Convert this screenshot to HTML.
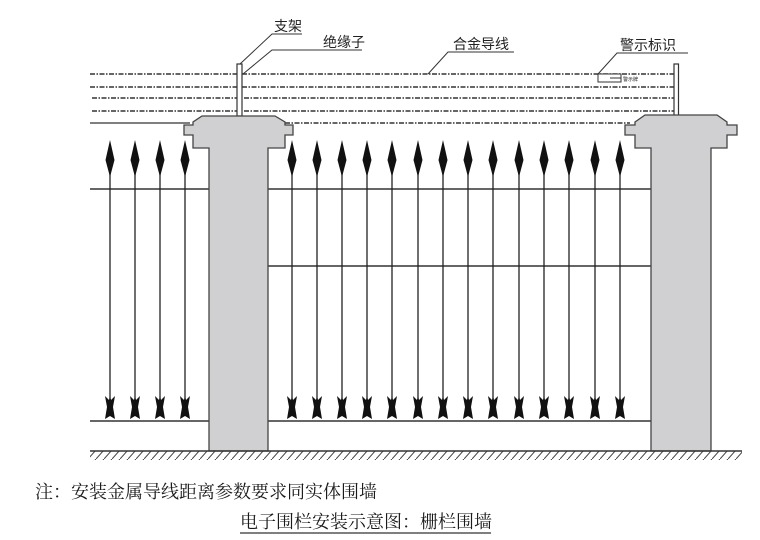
<!DOCTYPE html>
<html><head><meta charset="utf-8"><style>
html,body{margin:0;padding:0;background:#fff;}
svg{display:block;}
text{font-family:"Liberation Sans","Noto Sans CJK SC",sans-serif;fill:#222;}
text.s{font-family:"Liberation Serif","Noto Serif CJK SC",serif;fill:#1a1a1a;}
</style></head><body>
<svg width="760" height="540" viewBox="0 0 760 540" xmlns="http://www.w3.org/2000/svg">
<defs>
<g id="sp">
<line x1="0" y1="170" x2="0" y2="400" stroke="#222" stroke-width="1.3"/>
<path d="M0,140 L4.5,160 L0,177 L-4.5,160 Z" fill="#111"/>
<path d="M-5,396 L-1,400 L0,396 L1,400 L5,396 L3,407 L5,419 L0,416 L-5,419 L-3,407 Z" fill="#111"/>
</g>
<pattern id="hatch" width="8" height="9" patternUnits="userSpaceOnUse">
<line x1="8" y1="0" x2="0" y2="9" stroke="#444" stroke-width="1"/>
</pattern>
</defs>

<g stroke="#333" stroke-width="1.4" stroke-dasharray="5,1.5,1.5,1.5">
<line x1="90" y1="74" x2="676" y2="74"/>
<line x1="90" y1="87" x2="676" y2="87"/>
<line x1="92" y1="98" x2="676" y2="98"/>
<line x1="92" y1="111" x2="676" y2="111"/>
<line x1="285" y1="123" x2="630" y2="123"/>
</g>
<line x1="90" y1="123" x2="190" y2="123" stroke="#333" stroke-width="1.3"/>

<rect x="237" y="64" width="5" height="52" fill="#fff" stroke="#333" stroke-width="1.2"/>
<rect x="674" y="64" width="4.5" height="52" fill="#fff" stroke="#333" stroke-width="1.2"/>

<g stroke="#333" stroke-width="1.4">
<line x1="90" y1="189" x2="209" y2="189"/>
<line x1="268" y1="189" x2="651" y2="189"/>
<line x1="268" y1="266" x2="651" y2="266"/>
<line x1="90" y1="421" x2="209" y2="421"/>
<line x1="268" y1="421" x2="651" y2="421"/>
</g>

<use href="#sp" x="110"/><use href="#sp" x="135"/><use href="#sp" x="160"/><use href="#sp" x="185"/>
<use href="#sp" x="292"/><use href="#sp" x="317"/><use href="#sp" x="342"/><use href="#sp" x="367"/>
<use href="#sp" x="392"/><use href="#sp" x="418"/><use href="#sp" x="443"/><use href="#sp" x="468"/>
<use href="#sp" x="493"/><use href="#sp" x="519"/><use href="#sp" x="544"/><use href="#sp" x="569"/>
<use href="#sp" x="595"/><use href="#sp" x="620"/>

<path d="M202,116 L275,116 L285,122 L285,125 L293,125 L293,135 L285,135 L285,148 L268,148 L268,451 L209,451 L209,148 L193,148 L193,135 L184,135 L184,125 L193,125 L193,122 Z" fill="#d0d0d2" stroke="#444" stroke-width="1.3"/>
<path d="M645,115 L717,115 L727,122 L727,125 L737,125 L737,135 L727,135 L727,148 L711,148 L711,451 L651,451 L651,148 L635,148 L635,135 L625,135 L625,125 L635,125 L635,122 Z" fill="#d0d0d2" stroke="#444" stroke-width="1.3"/>

<rect x="90" y="451" width="652" height="9" fill="url(#hatch)"/>
<line x1="90" y1="451" x2="742" y2="451" stroke="#333" stroke-width="1.6"/>

<g stroke="#333" stroke-width="1" fill="none">
<polyline points="240,64 272,34 302,34"/>
<polyline points="243,74 272,50 362,50"/>
<polyline points="428,74 448,52 514,52"/>
<polyline points="598,74 617,53 688,53"/>
</g>
<rect x="598" y="74" width="23" height="8" fill="#fff" stroke="#333" stroke-width="1"/>
<line x1="610" y1="78" x2="621" y2="78" stroke="#333" stroke-width="1"/>
<text x="623" y="81" font-size="5">警示牌</text>
<text x="274" y="31" font-size="14">支架</text>
<text x="323" y="47" font-size="14">绝缘子</text>
<text x="453" y="49" font-size="14">合金导线</text>
<text x="620" y="50" font-size="14">警示标识</text>

<text class="s" x="35" y="498" font-size="18">注：安装金属导线距离参数要求同实体围墙</text>
<text class="s" x="240" y="528" font-size="18">电子围栏安装示意图：栅栏围墙</text>
<line x1="240" y1="533" x2="491" y2="533" stroke="#333" stroke-width="1.2"/>
</svg>
</body></html>
